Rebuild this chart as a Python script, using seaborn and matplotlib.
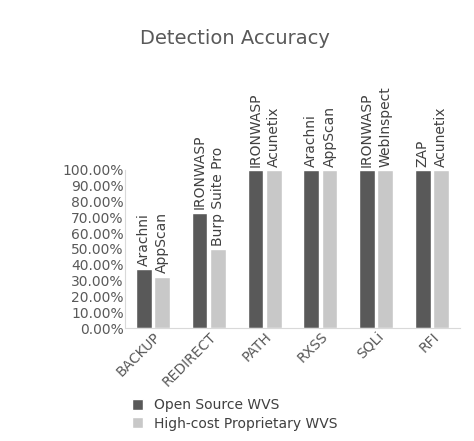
import matplotlib
matplotlib.use("Agg")
import matplotlib.pyplot as plt
import seaborn as sns
import pandas as pd
from matplotlib.ticker import PercentFormatter

categories = ["BACKUP", "REDIRECT", "PATH", "RXSS", "SQLi", "RFI"]
open_source = [37.5, 73.0, 100, 100, 100, 100]
proprietary = [32.5, 50.0, 100, 100, 100, 100]
open_tools = ["Arachni", "IRONWASP", "IRONWASP", "Arachni", "IRONWASP", "ZAP"]
prop_tools = ["AppScan", "Burp Suite Pro", "Acunetix", "AppScan", "WebInspect", "Acunetix"]
series = ["Open Source WVS", "High-cost Proprietary WVS"]

df = pd.DataFrame({
    "cat": categories * 2,
    "val": open_source + proprietary,
    "series": [series[0]] * 6 + [series[1]] * 6,
})

sns.set_style("white")
plt.rcParams["font.family"] = ["DejaVu Sans"]
fig = plt.figure(figsize=(4.74, 4.41), dpi=100)
ax = fig.add_axes([0.264, 0.256, 0.706, 0.359])
sns.barplot(data=df, x="cat", y="val", hue="series", palette=["#595959", "#c8c8c8"],
            width=0.66, gap=0.15, ax=ax, legend=True)
ax.set_ylim(0, 100)
ax.set_yticks(range(0, 101, 10))
ax.yaxis.set_major_formatter(PercentFormatter(decimals=2))
ax.set_xlabel("")
ax.set_ylabel("")
for s in ["top", "right"]:
    ax.spines[s].set_visible(False)
ax.spines["left"].set_color("#d9d9d9")
ax.spines["bottom"].set_color("#d9d9d9")
ax.tick_params(colors="#595959", labelsize=10, length=0, pad=1)
plt.setp(ax.get_xticklabels(), rotation=45, ha="right", rotation_mode="anchor")

for cont, names in zip(ax.containers, [open_tools, prop_tools]):
    for bar, name in zip(cont, names):
        ax.text(bar.get_x() + bar.get_width() / 2, bar.get_height() + 2, name,
                rotation=90, ha="center", va="bottom", fontsize=10, color="#404040",
                clip_on=False)

ax.legend(loc="upper left", bbox_to_anchor=(0.0, -0.4), frameon=False,
          fontsize=10, handlelength=0.8, handleheight=0.8, labelcolor="#404040",
          borderpad=0, labelspacing=0.3)
fig.text(0.495, 0.9, "Detection Accuracy", ha="center", fontsize=14, color="#595959")
fig.savefig("out.png", dpi=100)
